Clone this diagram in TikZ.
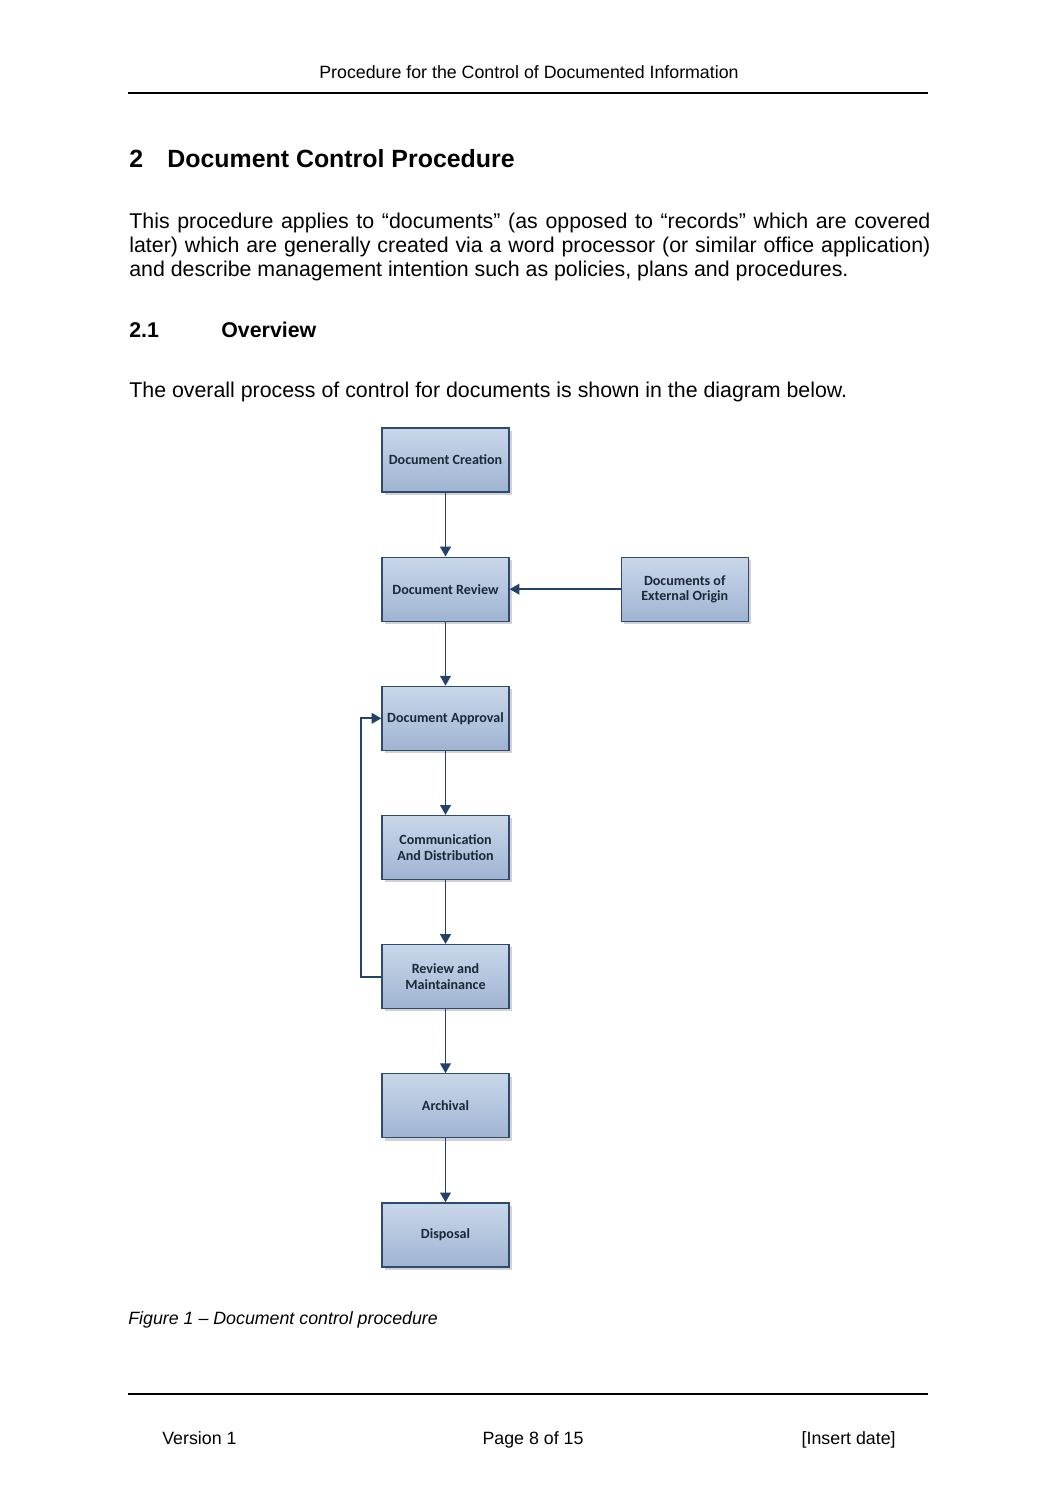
\documentclass[tikz,border=0pt]{standalone}
\usepackage{fontspec}
\setmainfont{Liberation Sans}
\newfontfamily\boxfont{Carlito}
\usetikzlibrary{positioning,shadows,arrows.meta}
\definecolor{boxtop}{HTML}{CAD7EA}
\definecolor{boxbot}{HTML}{9FB4D2}
\definecolor{boxline}{HTML}{2E4A70}
\definecolor{flowblue}{HTML}{24416B}
\definecolor{boxtext}{HTML}{1B2838}
\begin{document}
\begin{tikzpicture}[x=0.56212pt, y=-0.56212pt,
      node distance=35.9pt,
      stage/.style={rectangle, draw=boxline, line width=0.7pt, top color=boxtop, bottom color=boxbot,
        minimum width=71.4pt, minimum height=36pt, inner sep=1pt, align=center, text=boxtext,
        font=\boxfont\bfseries\fontsize{7.9}{8.6}\selectfont,
        drop shadow={shadow xshift=1.6pt, shadow yshift=-1.6pt, fill=black!35, opacity=.5}},
      flow/.style={draw=flowblue, line width=1pt, -{Triangle[length=5.5pt, width=6pt]}},
      txt/.style={anchor=base west, inner sep=0pt},
      rule/.style={line width=0.6pt}
      ]
      \useasboundingbox[fill=white] (0,0) rectangle (1059,1497);
      % page header
      \node[txt, anchor=base, font=\fontsize{10}{12}\selectfont] (head) at (529,78) {Procedure for the Control of Documented Information};
      \draw[rule] (128,93) -- (928,93);
      % section text
      \node[txt, font=\bfseries\fontsize{14}{17}\selectfont] (secnum) at (129,167) {2};
      \node[txt, font=\bfseries\fontsize{14}{17}\selectfont] (sectitle) at (167,167) {Document Control Procedure};
      \node[txt] (intro) at (129,228) {\parbox[t]{450.3pt}{\fontsize{12}{13.5}\selectfont
        This procedure applies to “documents” (as opposed to “records” which are covered\linebreak
        later) which are generally created via a word processor (or similar office application)\linebreak
        and describe management intention such as policies, plans and procedures.}};
      \node[txt, font=\bfseries\fontsize{12}{13.5}\selectfont] (subnum) at (129,337) {2.1};
      \node[txt, font=\bfseries\fontsize{12}{13.5}\selectfont] (subtitle) at (221,337) {Overview};
      \node[txt, font=\fontsize{12}{13.5}\selectfont] (lead) at (129,397) {The overall process of control for documents is shown in the diagram below.};
      % flow chart
      \node[stage] (create) at (445.5,460) {Document Creation};
      \node[stage, below=of create] (review) {Document Review};
      \node[stage, right=62.4pt of review] (extern) {Documents of\\External Origin};
      \node[stage, below=of review] (approve) {Document Approval};
      \node[stage, below=of approve] (distrib) {Communication\\And Distribution};
      \node[stage, below=of distrib] (maint) {Review and\\Maintainance};
      \node[stage, below=of maint] (archive) {Archival};
      \node[stage, below=of archive] (dispose) {Disposal};
      \draw[flow] (create) -- (review);
      \draw[flow] (extern) -- (review);
      \draw[flow] (review) -- (approve);
      \draw[flow] (approve) -- (distrib);
      \draw[flow] (distrib) -- (maint);
      \draw[flow] (maint) -- (archive);
      \draw[flow] (archive) -- (dispose);
      \draw[flow] (maint.west) -- ++(-20,0) |- (approve.west);
      % caption
      \node[txt, font=\itshape\fontsize{10}{12}\selectfont] (caption) at (128,1324) {Figure 1 – Document control procedure};
      % page footer
      \draw[rule] (128,1394) -- (928,1394);
      \node[txt, font=\fontsize{10}{12}\selectfont] (version) at (162,1444) {Version 1};
      \node[txt, anchor=base, font=\fontsize{10}{12}\selectfont] (page) at (533,1444) {Page 8 of 15};
      \node[txt, anchor=base east, font=\fontsize{10}{12}\selectfont] (date) at (896,1444) {[Insert date]};
\end{tikzpicture}
\end{document}
